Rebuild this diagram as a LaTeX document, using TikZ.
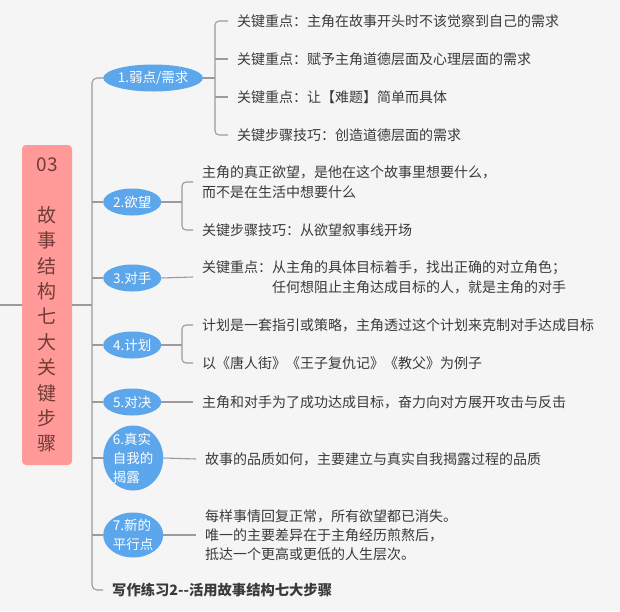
\documentclass[tikz,border=0pt]{standalone}
\usepackage{fontspec}
\setmainfont{Noto Sans CJK SC}
\usetikzlibrary{positioning, shapes.geometric}
\definecolor{paper}{RGB}{245,245,245}
\definecolor{rootred}{RGB}{255,154,152}
\definecolor{rootink}{RGB}{112,60,54}
\definecolor{bluenode}{RGB}{92,166,236}
\definecolor{ink}{RGB}{58,58,58}
\definecolor{wire}{RGB}{155,155,155}
\newcommand{\fs}[2]{\fontsize{#1}{#2}\selectfont}

\begin{document}
\begin{tikzpicture}[x=1pt, y=-1pt, every node/.style={font=\fs{14}{20}, text=ink},
      rootbox/.style={draw=none, fill=rootred, rounded corners=4pt, align=center,
                      minimum width=50pt, minimum height=320pt, inner sep=0pt,
                      font=\fs{19}{25.4}, text=rootink},
      stepnode/.style={ellipse, fill=bluenode, text=white, anchor=west, inner sep=0pt,
                       minimum width=58pt, minimum height=27pt, font=\fs{13.5}{19}, align=left},
      leaf/.style={anchor=west, inner xsep=9pt, inner ysep=1pt, align=left},
      ln/.style={draw=wire, line width=1.1pt}]
    \fill[paper] (0,0) rectangle (620,611);
    \useasboundingbox (0,0) rectangle (620,611);

    % centre and trunk
    \node[rootbox] (root) at (47,305) {03\\[25.4pt]故\\事\\结\\构\\七\\大\\关\\键\\步\\骤};
    \coordinate (lft) at (0,305);
    \coordinate (spine) at (92,305);

    % the seven steps
    \node[stepnode, minimum width=92pt] (b1) at (103,78) {1.弱点/需求};
    \node[stepnode] (b2) at (103,202) {2.欲望};
    \node[stepnode] (b3) at (103,278) {3.对手};
    \node[stepnode] (b4) at (103,345) {4.计划};
    \node[stepnode] (b5) at (103,402) {5.对决};
    \node[stepnode, minimum width=60pt, minimum height=65pt, inner ysep=-5pt] (b6) at (103,458) {6.真实\\自我的\\揭露};
    \node[stepnode, minimum width=60pt, minimum height=45pt] (b7) at (103,535) {7.新的\\平行点};
    \node[anchor=west, inner xsep=9pt, font=\bfseries\fs{14.3}{18}] (ex) at (103,590) {写作练习2-{}-活用故事结构七大步骤};

    \draw[ln] (lft) -- (root.west);
    \draw[ln] (root.east) -- (spine);
    \draw[ln, rounded corners=5pt] (b1.west) -| (spine) |- (ex.west);
    \foreach \b in {b2,b3,b4,b5,b6,b7}
      \draw[ln] (spine |- \b.west) -- (\b.west);

    % 1
    \node[leaf] (l11) at (228,21) {关键重点：主角在故事开头时不该觉察到自己的需求};
    \node[leaf] (l12) at (228,59) {关键重点：赋予主角道德层面及心理层面的需求};
    \node[leaf] (l13) at (228,97) {关键重点：让【难题】简单而具体};
    \node[leaf] (l14) at (228,135) {关键步骤技巧：创造道德层面的需求};
    \coordinate (k1) at (215,78);
    \draw[ln] (b1.east) -- (k1);
    \draw[ln, rounded corners=4pt] (l11.west) -| (k1) |- (l14.west);
    \draw[ln] (k1 |- l12.west) -- (l12.west);
    \draw[ln] (k1 |- l13.west) -- (l13.west);

    % 2
    \node[leaf] (l21) at (193,182) {主角的真正欲望，是他在这个故事里想要什么，\\而不是在生活中想要什么};
    \node[leaf] (l22) at (193,230) {关键步骤技巧：从欲望叙事线开场};
    \coordinate (k2) at (182,202);
    \draw[ln] (b2.east) -- (k2);
    \draw[ln, rounded corners=4pt] (l21.west) -| (k2) |- (l22.west);

    % 3
    \node[leaf, align=right] (l3) at (193,277) {关键重点：从主角的具体目标着手，找出正确的对立角色；\\任何想阻止主角达成目标的人，就是主角的对手};
    \draw[ln] (b3.east) -- (l3.west);

    % 4
    \node[leaf] (l41) at (193,325) {计划是一套指引或策略，主角透过这个计划来克制对手达成目标};
    \node[leaf] (l42) at (193,363) {以《唐人街》《王子复仇记》《教父》为例子};
    \coordinate (k4) at (182,345);
    \draw[ln] (b4.east) -- (k4);
    \draw[ln, rounded corners=4pt] (l41.west) -| (k4) |- (l42.west);

    % 5 - 7
    \node[leaf] (l5) at (193,402) {主角和对手为了成功达成目标，奋力向对方展开攻击与反击};
    \node[leaf] (l6) at (196,459) {故事的品质如何，主要建立与真实自我揭露过程的品质};
    \node[leaf, font=\fs{14}{19}] (l7) at (196,535) {每样事情回复正常，所有欲望都已消失。\\唯一的主要差异在于主角经历煎熬后，\\抵达一个更高或更低的人生层次。};
    \draw[ln] (b5.east) -- (l5.west);
    \draw[ln] (b6.east) -- (l6.west);
    \draw[ln] (b7.east) -- (l7.west);
  \end{tikzpicture}
\end{document}
